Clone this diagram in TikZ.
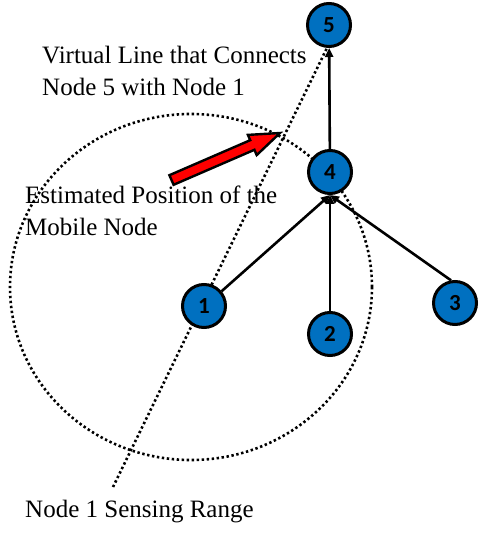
\documentclass[tikz,border=0pt]{standalone}
\usepackage{fontspec}
\setmainfont{Liberation Serif}
\newfontfamily\numfont{Carlito}
\usetikzlibrary{arrows.meta,backgrounds}
\definecolor{nodeblue}{HTML}{0070C0}
\begin{document}
\begin{tikzpicture}[x=1pt,y=-1pt,
  sensor/.style={circle, draw=black, line width=3pt, fill=nodeblue, minimum size=43pt, inner sep=0pt, font=\numfont\bfseries\fontsize{23}{23}\selectfont},
  link/.style={line width=2.6pt, -{Triangle[length=9pt,width=8pt]}},
  dotline/.style={line width=2.6pt, dash pattern=on 2.4pt off 2.6pt},
  txtlabel/.style={anchor=north west, inner sep=0pt, align=left, font=\fontsize{25}{32}\selectfont},
  redarrow/.style={fill=red, draw=black, line width=2.4pt, line join=miter}
]
\useasboundingbox (0,0) rectangle (493,534);

% sensor nodes
\node[sensor] (n5) at (329,25) {5};
\node[sensor] (n4) at (330,172) {4};
\node[sensor] (n1) at (204,306) {1};
\node[sensor] (n2) at (330,334) {2};
\node[sensor] (n3) at (455,303) {3};

% dotted range circle and virtual line (behind the nodes)
\coordinate (vlend) at (113,487);
\begin{scope}[on background layer]
  \draw[dotline] (191,287) ellipse [x radius=181, y radius=173];
  \draw[dotline] (vlend) -- (n5.265);
\end{scope}

% links
\draw[link] (n4) -- (n5);
\draw[link] (n1.40) -- (n4.south);
\draw[link] (n2) -- (n4.south);
\draw[link] (n3.100) -- (n4.south);

% red arrow
\filldraw[redarrow] (169.4,175.2) -- (250.2,140.2) -- (247.9,134.9) -- (280,133)
  -- (256.7,155.1) -- (254.4,149.8) -- (173.6,184.8) -- cycle;

% texts
\node[txtlabel] (t1) at (42,46) {Virtual Line that Connects\\Node 5 with Node 1};
\node[txtlabel] (t2) at (25,186) {Estimated Position of the\\Mobile Node};
\node[txtlabel] (t3) at (25,500) {Node 1 Sensing Range};
\end{tikzpicture}
\end{document}
